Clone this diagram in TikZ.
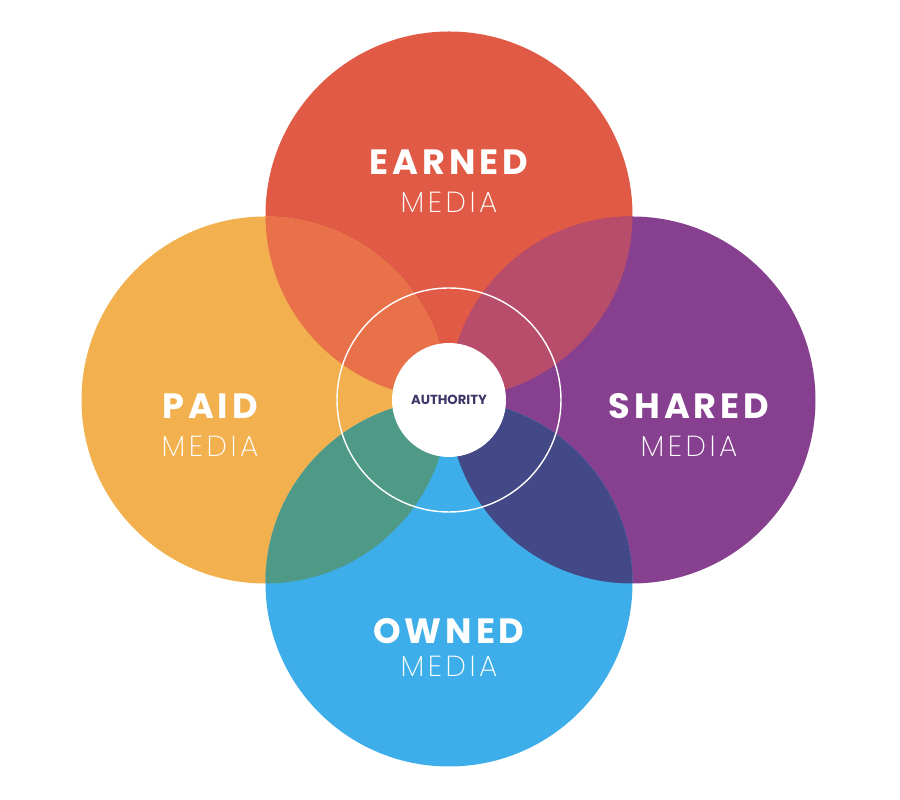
\documentclass[tikz,border=0pt]{standalone}
\usepackage{fontspec}
\setmainfont{Poppins}
\newfontfamily\headfont{Poppins}[LetterSpace=11]
\newfontfamily\lightfont{Poppins}[UprightFont=* ExtraLight, LetterSpace=12]
\usetikzlibrary{positioning}

\definecolor{earnedclr}{HTML}{E05A45}
\definecolor{paidclr}{HTML}{F2B04E}
\definecolor{sharedclr}{HTML}{86408F}
\definecolor{ownedclr}{HTML}{3DAEE9}
\definecolor{epclr}{HTML}{E8714A}
\definecolor{esclr}{HTML}{B84C6B}
\definecolor{poclr}{HTML}{4E9A87}
\definecolor{soclr}{HTML}{434887}
\definecolor{authclr}{HTML}{3B3868}
\newcommand{\rad}{3.67}

\tikzset{
    media/.style={circle, minimum size=7.34cm, inner sep=0pt},
    head/.style={text=white, font=\headfont\bfseries\fontsize{20}{22}\selectfont},
    sub/.style={text=white, font=\lightfont\fontsize{16.5}{18}\selectfont}
}

\begin{document}
\begin{tikzpicture}
    \useasboundingbox (0,0) rectangle (18,16);
    \fill[white] (0,0) rectangle (18,16);
    %the four circles
        \foreach \nm/\clr/\pos in {earned/earnedclr/{(8.98,11.70)}, paid/paidclr/{(5.30,8.00)},
            shared/sharedclr/{(12.64,8.00)}, owned/ownedclr/{(8.98,4.34)}} {
            \node[media, fill=\clr] (\nm) at \pos {};
        }
    %overlaps
        \foreach \a/\b/\clr in {earned/paid/epclr, earned/shared/esclr,
            paid/owned/poclr, shared/owned/soclr} {
            \begin{scope}
                \clip (\a.center) circle (\rad);
                \fill[\clr] (\b.center) circle (\rad);
            \end{scope}
        }
    %centre
        \node[circle, draw=white, line width=0.8pt, minimum size=4.48cm] (ring) at (8.98,8.00) {};
        \node[circle, fill=white, minimum size=2.28cm, inner sep=0pt] (core) at (ring.center) {};
        \node[text=authclr, font=\bfseries\fontsize{7.5}{9}\selectfont] (auth) at (core.center) {AUTHORITY};
    %labels
        \node[head] (earnedtxt) at (8.98,12.76) {EARNED};
        \node[sub, below=0.1cm of earnedtxt] (earnedsub) {MEDIA};
        \node[head] (paidtxt) at (4.20,7.88) {PAID};
        \node[sub, below=0.1cm of paidtxt] (paidsub) {MEDIA};
        \node[head] (sharedtxt) at (13.78,7.88) {SHARED};
        \node[sub, below=0.1cm of sharedtxt] (sharedsub) {MEDIA};
        \node[head] (ownedtxt) at (8.98,3.38) {OWNED};
        \node[sub, below=0.0cm of ownedtxt] (ownedsub) {MEDIA};
\end{tikzpicture}
\end{document}
